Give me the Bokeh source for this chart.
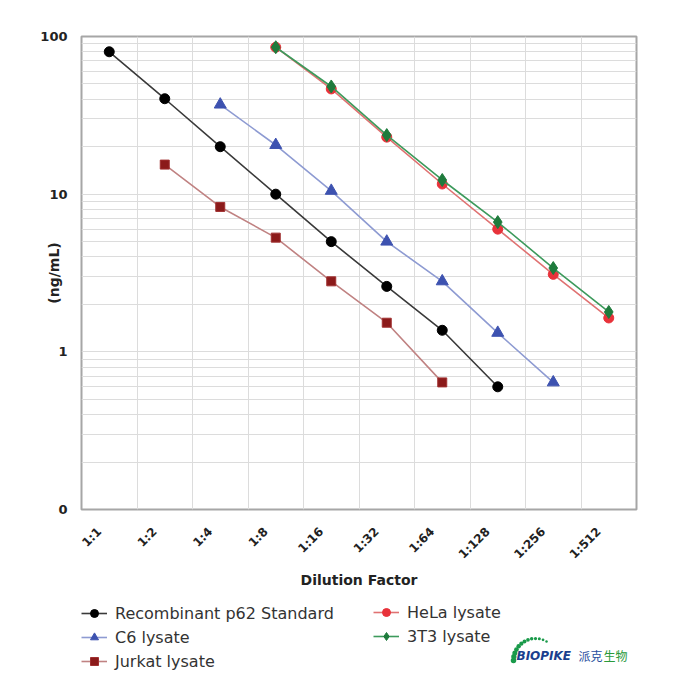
import numpy as np
from bokeh.plotting import figure
from bokeh.layouts import column
from bokeh.models import FixedTicker, Range1d, Legend, LegendItem, Label
from bokeh.embed import file_html
from bokeh.resources import INLINE

# ---------------- data ----------------
dilutions = ["1:1", "1:2", "1:4", "1:8", "1:16", "1:32", "1:64", "1:128", "1:256", "1:512"]

recombinant_start = "1:1"
recombinant = [80, 40.3, 20, 10, 5.0, 2.6, 1.37, 0.6]

c6_start = "1:4"
c6 = [37, 20.5, 10.5, 5.0, 2.8, 1.32, 0.64]

jurkat_start = "1:2"
jurkat = [15.4, 8.3, 5.3, 2.8, 1.53, 0.64]

hela_start = "1:8"
hela = [85.5, 46.5, 23.0, 11.6, 6.0, 3.1, 1.64]

t3_start = "1:8"
t3 = [85.5, 48.2, 23.7, 12.3, 6.65, 3.4, 1.79]

y_ticks = [0.1, 1, 10, 100]
y_tick_labels = ["0", "1", "10", "100"]

FONT = "DejaVu Sans"

# ---------------- main figure ----------------
p = figure(width=683, height=600, y_axis_type="log",
           x_range=Range1d(0, len(dilutions)), y_range=Range1d(0.1, 100),
           output_backend="svg", toolbar_location=None,
           min_border_left=81, min_border_right=47, min_border_top=36, min_border_bottom=91)
p.background_fill_color = "white"
p.border_fill_color = "white"
p.outline_line_color = "#a6a6a6"
p.outline_line_width = 2

def xs(start, vals):
    i0 = dilutions.index(start)
    return [i0 + k + 0.5 for k in range(len(vals))]

label_pos = [round(i + 0.32, 2) for i in range(len(dilutions))]
p.xaxis.ticker = FixedTicker(ticks=label_pos)
p.xaxis.major_label_overrides = {t: d for t, d in zip(label_pos, dilutions)}
p.xaxis.major_label_orientation = np.pi / 4
p.xaxis.major_label_standoff = 14
p.xaxis.axis_label = "Dilution Factor"
p.xaxis.axis_label_standoff = 3

minor = [k * 10.0 ** e for e in (-1, 0, 1) for k in range(2, 10)]
p.yaxis.ticker = FixedTicker(ticks=y_ticks, minor_ticks=minor)
p.yaxis.major_label_overrides = {t: l for t, l in zip(y_ticks, y_tick_labels)}
p.yaxis.major_label_standoff = 8
p.yaxis.axis_label = "(ng/mL)"
p.yaxis.axis_label_standoff = -25

for ax in (p.xaxis, p.yaxis):
    ax.axis_line_color = None
    ax.major_tick_line_color = None
    ax.minor_tick_line_color = None
    ax.major_label_text_font = FONT
    ax.major_label_text_font_style = "bold"
    ax.major_label_text_font_size = "13px"
    ax.major_label_text_color = "#222222"
    ax.axis_label_text_font = FONT
    ax.axis_label_text_font_style = "bold"
    ax.axis_label_text_font_size = "14px"
    ax.axis_label_text_color = "#222222"

p.xaxis.major_label_text_font_size = "12px"

p.xgrid.ticker = FixedTicker(ticks=list(range(len(dilutions) + 1)))
p.xgrid.grid_line_color = "#dcdcdc"
p.ygrid.grid_line_color = "#dcdcdc"
p.ygrid.minor_grid_line_color = "#dcdcdc"

styles = {
    "rec": ("#3a3a3a", "circle", "#000000", "#000000", 10),
    "c6": ("#8e9bd2", "triangle", "#3d52b0", "#3d52b0", 12),
    "jur": ("#c08282", "square", "#8b1a1a", "#a03030", 9),
    "hela": ("#e07272", "circle", "#e8323a", "#e8323a", 10),
    "t3": ("#3d9a5c", "diamond", "#1e7b3c", "#1e7b3c", 13),
}

def series(fig, x, vals, key):
    lc, mk, mc, ml, sz = styles[key]
    l = fig.line(x, vals, line_color=lc, line_width=1.6)
    s = fig.scatter(x, vals, marker=mk, size=sz, fill_color=mc, line_color=ml)
    return [l, s]

series(p, xs(recombinant_start, recombinant), recombinant, "rec")
series(p, xs(c6_start, c6), c6, "c6")
series(p, xs(jurkat_start, jurkat), jurkat, "jur")
series(p, xs(hela_start, hela), hela, "hela")
series(p, xs(t3_start, t3), t3, "t3")

# ---------------- legend strip (frame aligned with main plot: x 81..636) ----------------
q = figure(width=683, height=85, x_range=Range1d(81, 636), y_range=Range1d(0, 85),
           output_backend="svg", toolbar_location=None,
           min_border_left=81, min_border_right=47, min_border_top=0, min_border_bottom=0)
q.axis.visible = False
q.grid.visible = False
q.outline_line_color = None
q.background_fill_color = "white"
q.border_fill_color = "white"

# invisible proxy renderers used only for legend swatches
proxies = {k: series(q, [np.nan], [np.nan], k) for k in styles}

leg_kw = dict(glyph_width=26, glyph_height=20, label_standoff=8, spacing=4, padding=0,
              margin=0, border_line_color=None, background_fill_alpha=0,
              label_text_font=FONT, label_text_font_size="16px", label_text_color="#333333")

leg1 = Legend(items=[LegendItem(label="Recombinant p62 Standard", renderers=proxies["rec"]),
                     LegendItem(label="C6 lysate", renderers=proxies["c6"]),
                     LegendItem(label="Jurkat lysate", renderers=proxies["jur"])],
              location=(0, 14), **leg_kw)
leg2 = Legend(items=[LegendItem(label="HeLa lysate", renderers=proxies["hela"]),
                     LegendItem(label="3T3 lysate", renderers=proxies["t3"])],
              location=(373 - 81, 39), **leg_kw)
q.add_layout(leg1)
q.add_layout(leg2)

# logo (data x = canvas x, data y = 685 - canvas y)
ang = np.linspace(np.pi, np.pi / 3, 13)
q.scatter(535 + 22 * np.cos(ang), (685 - 660) + 22 * np.sin(ang), marker="circle",
          size=np.linspace(5.5, 2.5, 13), fill_color="#1a9a4a", line_color=None)
q.add_layout(Label(x=516, y=685 - 655, text="BIOPIKE",
                   text_font=FONT, text_font_style="bold italic", text_font_size="12px",
                   text_color="#1b3f8e", text_baseline="middle"))
q.add_layout(Label(x=578, y=685 - 655, text="派克",
                   text_font="Noto Sans CJK SC", text_font_size="12px",
                   text_color="#2a4f9e", text_baseline="middle"))
q.add_layout(Label(x=603, y=685 - 655, text="生物",
                   text_font="Noto Sans CJK SC", text_font_size="12px",
                   text_color="#2a9a3a", text_baseline="middle"))

layout = column(p, q, spacing=0)
open("out.html", "w").write(file_html(layout, INLINE))
